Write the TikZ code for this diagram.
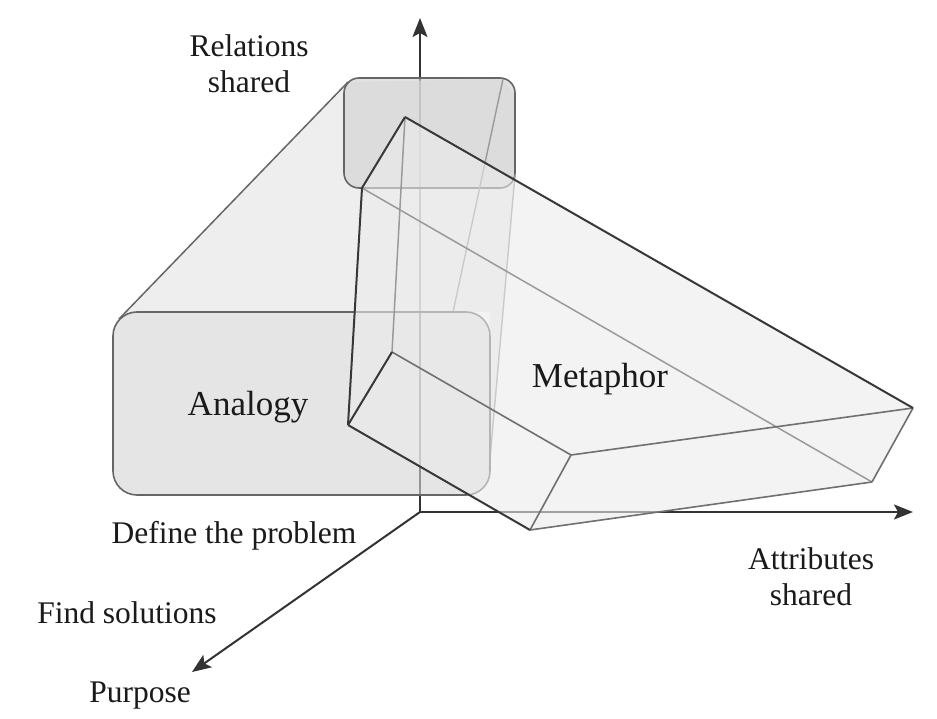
\documentclass[tikz,border=0pt]{standalone}
\usepackage{fontspec}
\setmainfont{Liberation Serif}
\usetikzlibrary{arrows.meta}
\definecolor{axiscol}{HTML}{333333}
\definecolor{textcol}{HTML}{1A1A1A}
\definecolor{hullgray}{HTML}{E7E7E7}
\definecolor{backgray}{HTML}{D0D0D0}
\definecolor{frontgray}{HTML}{D5D5D5}
\definecolor{metafill}{HTML}{EBEBEB}
\definecolor{anaedge}{HTML}{666666}
\definecolor{darkedge}{HTML}{383838}
\definecolor{midedge}{HTML}{707070}
\definecolor{lightedge}{HTML}{9A9A9A}
\begin{document}
\begin{tikzpicture}[x=1pt,y=-1pt,
  axisline/.style={draw=axiscol,line width=2pt,-{Stealth[length=19pt,width=15pt,inset=4pt]}},
  lbl/.style={font=\fontsize{31.5}{36}\selectfont,text=textcol,inner sep=0pt,align=center},
  biglbl/.style={font=\fontsize{35}{40}\selectfont,text=textcol,inner sep=0pt},
  anaface/.style={draw=anaedge,line width=1.6pt},
  tubeline/.style={draw=anaedge,line width=1.5pt},
  tubelight/.style={draw=lightedge,line width=1.4pt},
  darkline/.style={draw=darkedge,line width=2pt,line join=round},
  midline/.style={draw=midedge,line width=1.6pt,line join=round},
  hidline/.style={draw=lightedge,line width=1.5pt}]
\useasboundingbox (0,0) rectangle (937,719);
\fill[white] (0,0) rectangle (937,719);

% axes
\coordinate (O) at (420,512);
\coordinate (ytip) at (420,18);
\coordinate (xtip) at (913,512);
\coordinate (ztip) at (192,672);
\draw[axisline] (O) -- (ytip);
\draw[axisline] (O) -- (xtip);
\draw[axisline] (O) -- (ztip);

% Analogy (extruded rounded box)
\coordinate (t1) at (119,319);
\coordinate (t2) at (348,82);
\coordinate (t3) at (503,79);
\coordinate (t4) at (453,312);
\coordinate (t5) at (515,175);
\coordinate (t6) at (489,470);
\fill[hullgray,fill opacity=0.7] (t1) -- (t2) -- (t3) -- (515,95) -- (t5) -- (t6) -- (490,312) -- (135,312) -- cycle;
\filldraw[anaface,fill=backgray,fill opacity=0.6,rounded corners=15pt] (344,78) rectangle (515,188);
\draw[tubeline] (t1) -- (t2);
\draw[tubelight] (t3) -- (t4);
\draw[tubelight] (t5) -- (t6);
\filldraw[anaface,fill=frontgray,fill opacity=0.6,rounded corners=24pt] (113,312) rectangle (490,495);

% Metaphor (wedge)
\coordinate (A) at (405,117);
\coordinate (B) at (362,188);
\coordinate (C) at (348,425);
\coordinate (D) at (392,352);
\coordinate (E) at (571,455);
\coordinate (F) at (530,530);
\coordinate (G) at (913,408);
\coordinate (H) at (872,482);
\fill[metafill,fill opacity=0.6] (A) -- (G) -- (H) -- (F) -- (C) -- (B) -- cycle;
\draw[hidline] (A) -- (D);
\draw[hidline] (B) -- (H);
\draw[midline] (D) -- (E);
\draw[midline] (E) -- (F);
\draw[midline] (E) -- (G);
\draw[midline] (G) -- (H);
\draw[midline] (F) -- (H);
\draw[darkline] (A) -- (G);
\draw[darkline] (A) -- (B);
\draw[darkline] (B) -- (C);
\draw[darkline] (C) -- (D);
\draw[darkline] (C) -- (F);

% labels
\node[lbl,anchor=north] (rel) at (249,34) {Relations\\shared};
\node[biglbl,anchor=base] (ana) at (248,415) {Analogy};
\node[biglbl,anchor=base] (met) at (600,387) {Metaphor};
\node[lbl,anchor=base] (def) at (234,543) {Define the problem};
\node[lbl,anchor=base] (find) at (127,623) {Find solutions};
\node[lbl,anchor=base] (purp) at (140,702) {Purpose};
\node[lbl,anchor=north] (attr) at (811,547) {Attributes\\shared};
\end{tikzpicture}
\end{document}
